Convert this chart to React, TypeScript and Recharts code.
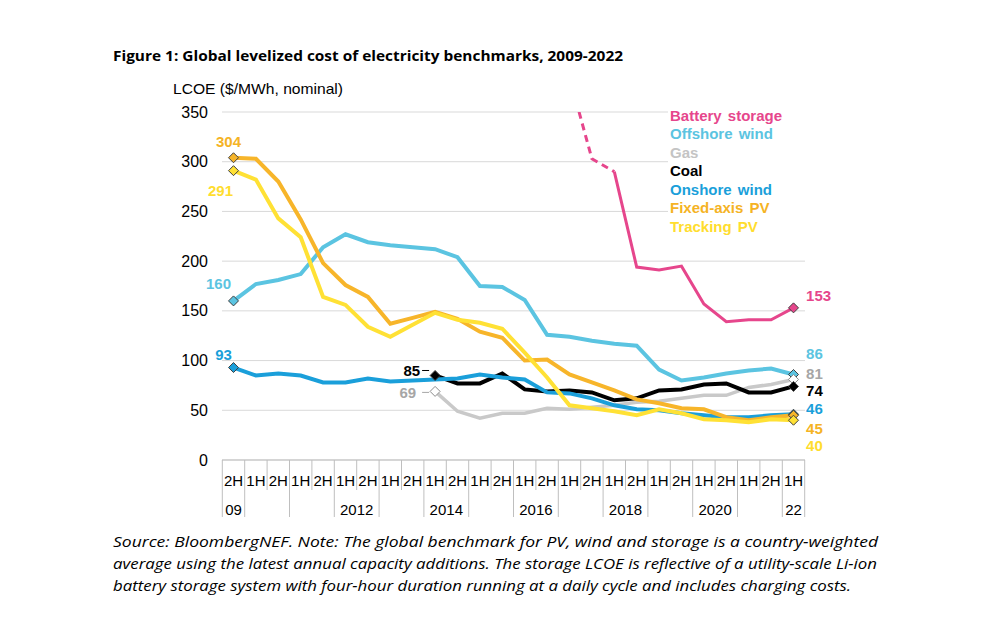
import { LineChart, Line, XAxis, YAxis, CartesianGrid, Legend } from 'recharts';

// half-year periods, 2H09 .. 1H22
const periods = ['2H', '1H', '2H', '1H', '2H', '1H', '2H', '1H', '2H', '1H', '2H', '1H', '2H',
  '1H', '2H', '1H', '2H', '1H', '2H', '1H', '2H', '1H', '2H', '1H', '2H', '1H'];
const years = ['09', '', '', '', '', '2012', '', '', '', '2014', '', '', '', '2016', '', '', '',
  '2018', '', '', '', '2020', '', '', '', '22'];
const yTicks = [0, 50, 100, 150, 200, 250, 300, 350];
const legendOrder = ['Battery storage', 'Offshore wind', 'Gas', 'Coal', 'Onshore wind', 'Fixed-axis PV', 'Tracking PV'];

const batteryEarly = [null, null, null, null, null, null, null, null, null, null, null, null, null,
  null, null, 385, 303, 290, null, null, null, null, null, null, null, null];
const battery = [null, null, null, null, null, null, null, null, null, null, null, null, null,
  null, null, null, null, 290, 194, 191, 195, 157, 139, 141, 141, 153];
const offshore = [160, 177, 181, 187, 214, 227, 219, 216, 214, 212, 204, 175, 174, 161, 126, 124,
  120, 117, 115, 91, 80, 83, 87, 90, 92, 86];
const gas = [null, null, null, null, null, null, null, null, null, 69, 49, 42, 47, 47, 52, 51,
  53, 55, 58, 59, 62, 65, 65, 73, 76, 81];
const coal = [null, null, null, null, null, null, null, null, null, 85, 77, 77, 87, 71, 69, 70,
  68, 60, 62, 70, 71, 76, 77, 68, 68, 74];
const onshore = [93, 85, 87, 85, 78, 78, 82, 79, 80, 81, 82, 86, 83, 81, 68, 67, 62, 55, 51, 50,
  47, 45, 43, 43, 45, 46];
const fixedPV = [304, 303, 280, 242, 198, 176, 164, 137, 143, 149, 142, 129, 123, 100, 101, 86,
  78, 70, 61, 57, 52, 51, 43, 40, 43, 45];
const trackingPV = [291, 282, 243, 224, 164, 156, 134, 124, 136, 148, 141, 138, 132, 108, 83, 55,
  52, 49, 45, 51, 47, 41, 40, 38, 41, 40];

const data = periods.map((p, i) => ({
  key: i,
  batteryEarly: batteryEarly[i],
  battery: battery[i],
  offshore: offshore[i],
  gas: gas[i],
  coal: coal[i],
  onshore: onshore[i],
  fixedPV: fixedPV[i],
  trackingPV: trackingPV[i],
}));

const PLOT_LEFT = 222;
const PLOT_RIGHT = 805;
const PLOT_TOP = 112;
const PLOT_BOTTOM = 460;
const PAD = 11.5;
const CELL = (PLOT_RIGHT - PLOT_LEFT - 2 * PAD) / (periods.length - 1);
const AXIS_GREY = '#BFBFBF';
const SANS = '"Liberation Sans", Arial, sans-serif';
const LAST = periods.length - 1;

type Lbl = { index: number; text: string; dx: number; dy: number; anchor?: string; leader?: boolean };

const makeDot = (fill: string, textColor: string, labels: Lbl[], hollow = false) => (props: any) => {
  const { cx, cy, index } = props;
  const lbl = labels.find((l) => l.index === index);
  if (!lbl || cx == null || cy == null) return <g key={`d-${index}`} />;
  const r = 5;
  return (
    <g key={`d-${index}`}>
      <polygon
        points={`${cx},${cy - r} ${cx + r},${cy} ${cx},${cy + r} ${cx - r},${cy}`}
        fill={hollow ? '#fff' : fill}
        stroke={hollow ? '#8C8C8C' : '#404040'}
        strokeWidth={1}
      />
      {lbl.leader && (
        <line x1={cx - 13} y1={cy + lbl.dy} x2={cx - 6} y2={cy + lbl.dy} stroke={textColor} strokeWidth={1} />
      )}
      <text
        x={cx + lbl.dx}
        y={cy + lbl.dy}
        textAnchor={lbl.anchor || 'start'}
        dominantBaseline="central"
        fontFamily={SANS}
        fontWeight={700}
        fontSize={15}
        fill={textColor}
      >
        {lbl.text}
      </text>
    </g>
  );
};

const XTick = (props: any) => {
  const { x, y, payload } = props;
  const i = payload.value as number;
  const half = CELL / 2;
  const yearStart = i === 0 || periods[i] === '1H';
  const yearX = periods[i] === '1H' && i !== LAST ? x + half : x;
  return (
    <g>
      <line x1={x - half} y1={y} x2={x - half} y2={yearStart ? y + 57 : y + 30} stroke={AXIS_GREY} />
      {i === LAST && <line x1={x + half} y1={y} x2={x + half} y2={y + 57} stroke={AXIS_GREY} />}
      <text x={x} y={y + 20} textAnchor="middle" dominantBaseline="central" fontFamily={SANS} fontSize={15} fill="#000">
        {periods[i]}
      </text>
      {years[i] && (
        <text x={yearX} y={y + 49} textAnchor="middle" dominantBaseline="central" fontFamily={SANS} fontSize={15} fill="#000">
          {years[i]}
        </text>
      )}
    </g>
  );
};

const YTick = (props: any) => {
  const { y, payload } = props;
  return (
    <text x={208} y={y} textAnchor="end" dominantBaseline="central" fontFamily={SANS} fontSize={16} fill="#000">
      {payload.value}
    </text>
  );
};

const legendText: Record<string, string> = {
  'Battery storage': '#E6468C',
  'Offshore wind': '#5BC4E1',
  Gas: '#C4C4C4',
  Coal: '#000000',
  'Onshore wind': '#1A9FDA',
  'Fixed-axis PV': '#F5B324',
  'Tracking PV': '#FFDD2E',
};

const renderLegend = (props: any) => {
  const { payload } = props;
  const items = payload
    .filter((entry: any) => entry.type !== 'none' && legendText[entry.value])
    .sort((a: any, b: any) => legendOrder.indexOf(a.value) - legendOrder.indexOf(b.value));
  return (
    <div style={{ background: '#fff', fontFamily: SANS, fontWeight: 700, fontSize: 15, lineHeight: '18.5px', paddingLeft: 2 }}>
      {items.map((entry: any, index: number) => (
        <div key={`item-${index}`} style={{ color: legendText[entry.value], whiteSpace: 'nowrap', wordSpacing: 2 }}>
          {entry.value}
        </div>
      ))}
    </div>
  );
};

const sourceLines = [
  'Source: BloombergNEF. Note: The global benchmark for PV, wind and storage is a country-weighted',
  'average using the latest annual capacity additions. The storage LCOE is reflective of a utility-scale Li-ion',
  'battery storage system with four-hour duration running at a daily cycle and includes charging costs.',
];
const sourceWidths = [765, 764, 738];

const App = () => {
  return (
    <div style={{ position: 'absolute', left: 0, top: 0, width: 1000, height: 640, background: '#fff' }}>
      <LineChart
        width={1000}
        height={640}
        data={data}
        margin={{ top: PLOT_TOP, left: PLOT_LEFT - 60, right: 1000 - PLOT_RIGHT, bottom: 640 - PLOT_BOTTOM - 60 }}
      >
        <CartesianGrid vertical={false} stroke="#D9D9D9" />
        <XAxis
          dataKey="key"
          type="category"
          interval={0}
          height={60}
          tickLine={false}
          tickSize={0}
          tickMargin={0}
          padding={{ left: PAD, right: PAD }}
          axisLine={{ stroke: AXIS_GREY }}
          tick={<XTick />}
        />
        <YAxis
          width={60}
          domain={[0, 350]}
          ticks={yTicks}
          allowDataOverflow
          axisLine={false}
          tickLine={false}
          tick={<YTick />}
        />
        <Legend
          layout="vertical"
          align="center"
          verticalAlign="middle"
          content={renderLegend}
          wrapperStyle={{ left: 668, top: 106.5, width: 137 }}
        />
        <Line
          dataKey="batteryEarly"
          name="Battery storage (early)"
          legendType="none"
          stroke="#E6468C"
          strokeWidth={3}
          strokeDasharray="7 5"
          dot={false}
          isAnimationActive={false}
        />
        <Line
          dataKey="battery"
          name="Battery storage"
          stroke="#E6468C"
          strokeWidth={3}
          dot={makeDot('#E6468C', '#E6468C', [{ index: LAST, text: '153', dx: 12.6, dy: -12 }])}
          isAnimationActive={false}
        />
        <Line
          dataKey="offshore"
          name="Offshore wind"
          stroke="#5BC4E1"
          strokeWidth={4}
          dot={makeDot('#5BC4E1', '#5BC4E1', [
            { index: 0, text: '160', dx: -15, dy: -17, anchor: 'middle' },
            { index: LAST, text: '86', dx: 12.6, dy: -21 },
          ])}
          isAnimationActive={false}
        />
        <Line
          dataKey="gas"
          name="Gas"
          stroke="#C9C9C9"
          strokeWidth={3.5}
          dot={makeDot('#C9C9C9', '#A6A6A6', [
            { index: 9, text: '69', dx: -19, dy: 1, anchor: 'end', leader: true },
            { index: LAST, text: '81', dx: 12.6, dy: -6 },
          ], true)}
          isAnimationActive={false}
        />
        <Line
          dataKey="coal"
          name="Coal"
          stroke="#000000"
          strokeWidth={4}
          dot={makeDot('#000000', '#000000', [
            { index: 9, text: '85', dx: -15, dy: -5, anchor: 'end', leader: true },
            { index: LAST, text: '74', dx: 12.6, dy: 4 },
          ])}
          isAnimationActive={false}
        />
        <Line
          dataKey="onshore"
          name="Onshore wind"
          stroke="#1A9FDA"
          strokeWidth={4}
          dot={makeDot('#1A9FDA', '#1A9FDA', [
            { index: 0, text: '93', dx: -10, dy: -13, anchor: 'middle' },
            { index: LAST, text: '46', dx: 12.6, dy: -5.5 },
          ])}
          isAnimationActive={false}
        />
        <Line
          dataKey="fixedPV"
          name="Fixed-axis PV"
          stroke="#F7B52A"
          strokeWidth={4}
          dot={makeDot('#F7B52A', '#F5B324', [
            { index: 0, text: '304', dx: -5, dy: -16, anchor: 'middle' },
            { index: LAST, text: '45', dx: 12.6, dy: 13 },
          ])}
          isAnimationActive={false}
        />
        <Line
          dataKey="trackingPV"
          name="Tracking PV"
          stroke="#FFE135"
          strokeWidth={4}
          dot={makeDot('#FFE135', '#FFDD2E', [
            { index: 0, text: '291', dx: -13, dy: 20, anchor: 'middle' },
            { index: LAST, text: '40', dx: 12.6, dy: 25 },
          ])}
          isAnimationActive={false}
        />
      </LineChart>
      <svg width={1000} height={640} style={{ position: 'absolute', left: 0, top: 0, pointerEvents: 'none' }}>
        <text
          x={113}
          y={55}
          dominantBaseline="central"
          fontFamily='"Open Sans", "Noto Sans", sans-serif'
          fontWeight={700}
          fontSize={14.5}
          textLength={510}
          lengthAdjust="spacingAndGlyphs"
          fill="#000"
        >
          Figure 1: Global levelized cost of electricity benchmarks, 2009-2022
        </text>
        <text x={173} y={88} dominantBaseline="central" fontFamily={SANS} fontSize={15} textLength={170} lengthAdjust="spacingAndGlyphs" fill="#000">
          LCOE ($/MWh, nominal)
        </text>
        {sourceLines.map((line, i) => (
          <text
            key={i}
            x={113}
            y={541 + i * 22.3}
            dominantBaseline="central"
            fontFamily='"Open Sans", "Noto Sans", sans-serif'
            fontStyle="italic"
            fontSize={14.5}
            textLength={sourceWidths[i]}
            lengthAdjust="spacingAndGlyphs"
            fill="#000"
          >
            {line}
          </text>
        ))}
      </svg>
    </div>
  );
};

export default App;
